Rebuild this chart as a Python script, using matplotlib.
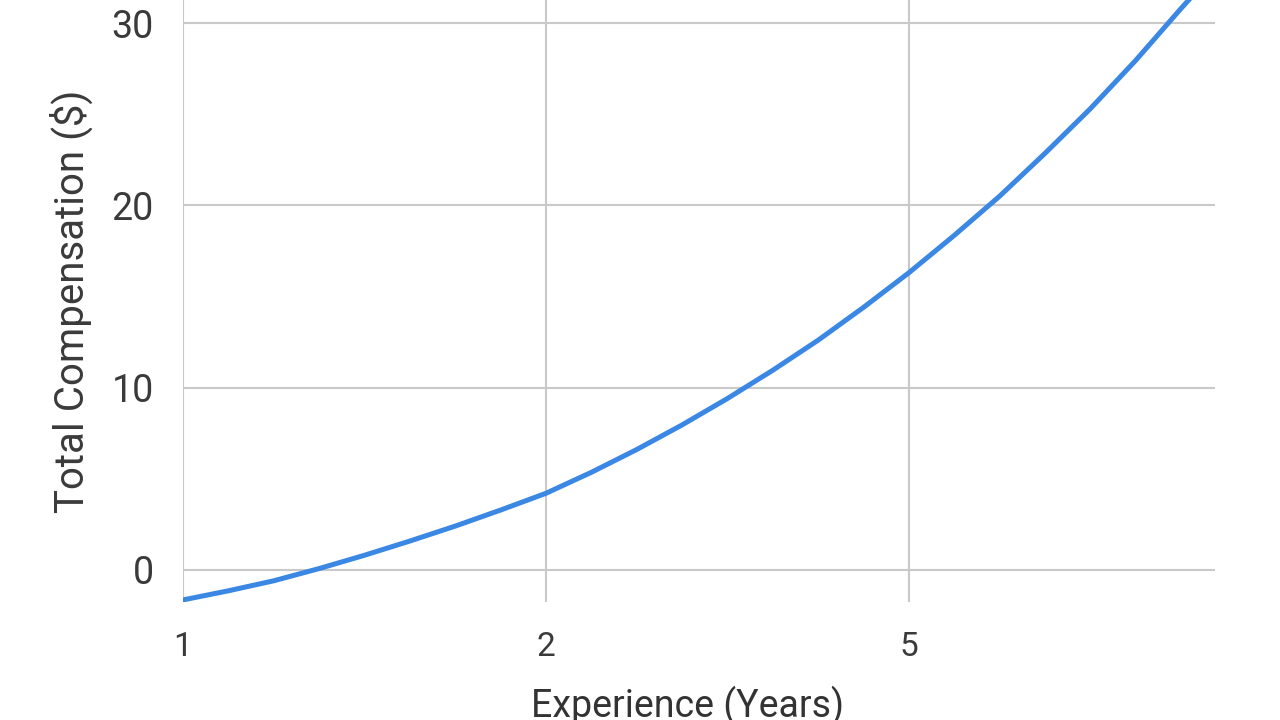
import matplotlib
matplotlib.use("Agg")
import matplotlib.pyplot as plt

# Values
experience = [1.0, 1.125, 1.25, 1.375, 1.5, 1.625, 1.75, 1.875, 2.0, 2.125, 2.25,
              2.375, 2.5, 2.625, 2.75, 2.875, 3.0, 3.125, 3.25, 3.375, 3.5,
              3.625, 3.75, 3.8]
compensation = [-1.65, -1.15, -0.6, 0.07, 0.8, 1.58, 2.4, 3.28, 4.2, 5.35, 6.6,
                7.95, 9.4, 10.95, 12.6, 14.4, 16.3, 18.35, 20.5, 22.85, 25.3,
                27.95, 30.8, 31.9]

x_ticks = [1, 2, 3]
x_tick_labels = ["1", "2", "5"]
y_ticks = [0, 10, 20, 30]

plt.rcParams["font.family"] = ["Roboto", "DejaVu Sans"]

fig = plt.figure(figsize=(12.8, 7.2), dpi=100)
ax = fig.add_axes([0.143, 0.164, 0.806, 0.836])

ax.plot(experience, compensation, color="#3a87e4", linewidth=3.6,
        solid_capstyle="round", solid_joinstyle="round", zorder=3)

ax.set_xlim(1.0, 3.843)
ax.set_ylim(-1.76, 31.27)

ax.set_xticks(x_ticks)
ax.set_xticklabels(x_tick_labels)
ax.set_yticks(y_ticks)

ax.grid(True, color="#c9c9c9", linewidth=1.5)
ax.set_axisbelow(True)
for s in ax.spines.values():
    s.set_visible(False)

ax.tick_params(axis="both", length=0, labelcolor="#3a3a3a")
ax.tick_params(axis="x", pad=21, labelsize=24)
ax.tick_params(axis="y", pad=21, labelsize=27)

ax.set_xlabel("Experience (Years)", fontsize=27, color="#333333", va="top")
ax.xaxis.set_label_coords(0.489, -0.14)
ax.set_ylabel("Total Compensation ($)", fontsize=29, color="#3a3a3a", va="center")
ax.yaxis.set_label_coords(-0.108, 0.5)

fig.savefig("out.png", dpi=100)
